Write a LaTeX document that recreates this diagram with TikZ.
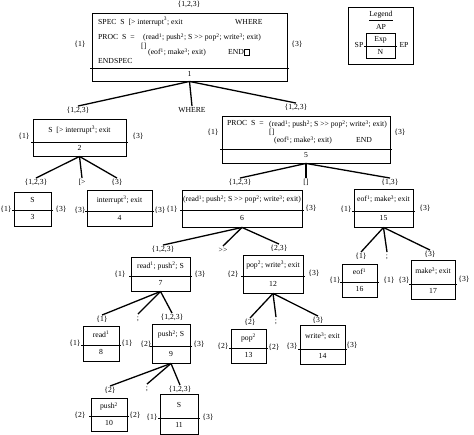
\documentclass[tikz,border=0pt]{standalone}
\usepackage{fontspec}
\setmainfont{Liberation Serif}
\newcommand\sx[1]{\textsuperscript{#1}}
\newcommand\seqop{>{}>}
\newcommand\qedbox{{\setlength\fboxsep{0pt}\setlength\fboxrule{0.9pt}\fbox{\rule{0pt}{4.5pt}\hspace{4.5pt}}}}
\tikzset{
  every node/.style={font=\fontsize{7.7}{9}\selectfont, inner sep=1pt, text height=5.6pt, text depth=1.9pt},
  tbox/.style={draw, line width=0.9pt, inner sep=0pt, text height=, text depth=},
  boxline/.style={line width=0.9pt},
  conn/.style={line width=1.3pt},
}
\newcommand\tb[8]{%
  \node[tbox, minimum width={(#4-#2)*1pt}, minimum height={(#6-#3)*1pt}] (#1) at ({(#2+#4)/2},{(#3+#6)/2}) {};
  \draw[boxline] (#2-2,#5) -- (#4+2,#5);
  \node (#1t) at ({(#2+#4)/2},{(#3+#5)/2}) {#7};
  \node (#1n) at ({(#2+#4)/2},{(#5+#6)/2}) {#8};
}
\begin{document}
\begin{tikzpicture}[x=1pt,y=-1pt]
\useasboundingbox (0,0) rectangle (474,435);

% ---------- Legend ----------
\node[tbox, minimum width=65pt, minimum height=57pt] (leg) at (380.5,35.5) {};
\node (legt) at (381,15) {\underline{Legend}};
\node (legap) at (381,28) {AP};
\node[tbox, minimum width=29pt, minimum height=25pt] (legb) at (380.5,45.5) {};
\draw[boxline] (364,46) -- (397,46);
\node (legexp) at (380.5,39.5) {Exp};
\node (legn) at (380.5,52.5) {N};
\node (legsp) at (359,46) {SP};
\node (legep) at (404,46) {EP};

% ---------- Box 1 ----------
\tb{b1}{92}{13}{287}{68}{81}{}{1}
\node[anchor=west] (s1a) at (97,23) {SPEC\ \ S\ \ [> interrupt\raisebox{1.5pt}{\sx{3}}; exit};
\node[anchor=west] (s1w) at (234,23) {WHERE};
\node[anchor=west] (s1b) at (97,38) {PROC\ \ S\ \ =};
\node[anchor=west] (s1c) at (142,38) {(read\sx{1}; push\sx{2}; S \seqop{} pop\sx{2}; write\sx{3}; exit)};
\node[anchor=west] (s1d) at (140,47) {[]};
\node[anchor=west] (s1e) at (147,53) {(eof\sx{1}; make\sx{3}; exit)};
\node[anchor=west] (s1f) at (227,53) {END\qedbox};
\node[anchor=west] (s1g) at (97,62) {ENDSPEC};
\node (l1top) at (189,5) {\{1,2,3\}};
\node (l1l) at (80,45) {\{1\}};
\node (l1r) at (297,45) {\{3\}};

% ---------- Box 2 ----------
\tb{b2}{33}{119}{126}{142}{156}{S\ \ [> interrupt\sx{3}; exit}{2}
\node (l2top) at (78,111) {\{1,2,3\}};
\node (l2l) at (24,137) {\{1\}};
\node (l2r) at (138,137) {\{3\}};
\node (op1) at (192,111) {WHERE};

% ---------- Box 3, 4 ----------
\tb{b3}{14}{192}{51}{210}{226}{S}{3}
\node (l3top) at (36,183) {\{1,2,3\}};
\node (l3l) at (6,210) {\{1\}};
\node (l3r) at (61,210) {\{3\}};
\node (op2) at (82,183) {[>};
\tb{b4}{87}{190}{152}{211}{226}{interrupt\sx{3}; exit}{4}
\node (l4top) at (117,183) {\{3\}};
\node (l4l) at (80,211) {\{3\}};
\node (l4r) at (160,211) {\{3\}};

% ---------- Box 5 ----------
\tb{b5}{222}{116}{390}{149}{163}{}{5}
\node[anchor=west] (s5a) at (226,124) {PROC\ \ S\ \ =};
\node[anchor=west] (s5b) at (268,125) {(read\sx{1}; push\sx{2}; S \seqop{} pop\sx{2}; write\sx{3}; exit)};
\node[anchor=west] (s5c) at (268,133) {[]};
\node[anchor=west] (s5d) at (273,141) {(eof\sx{1}; make\sx{3}; exit)};
\node[anchor=west] (s5e) at (355,141) {END};
\node (l5top) at (296,108) {\{1,2,3\}};
\node (l5l) at (213,133) {\{1\}};
\node (l5r) at (400,133) {\{3\}};

% ---------- Box 6, 15 ----------
\tb{b6}{182}{190}{302}{210}{227}{(read\sx{1}; push\sx{2}; S \seqop{} pop\sx{2}; write\sx{3}; exit)}{6}
\node (l6top) at (240,183) {\{1,2,3\}};
\node (l6l) at (172,210) {\{1\}};
\node (l6r) at (311,209) {\{3\}};
\node (op5) at (306,183) {[]};
\tb{b15}{354}{189}{413}{211}{227}{eof\sx{1}; make\sx{3}; exit}{15}
\node (l15top) at (390,183) {\{1,3\}};
\node (l15l) at (346,210) {\{1\}};
\node (l15r) at (425,209) {\{3\}};

% ---------- Box 7, 12 ----------
\tb{b7}{131}{257}{190}{276}{291}{read\sx{1}; push\sx{2}; S}{7}
\node (l7top) at (163,250) {\{1,2,3\}};
\node (l7l) at (120,275) {\{1\}};
\node (l7r) at (200,275) {\{3\}};
\node (op6) at (223,251) {\seqop};
\tb{b12}{243}{255}{303}{276}{293}{pop\sx{2}; write\sx{3}; exit}{12}
\node (l12top) at (279,249) {\{2,3\}};
\node (l12l) at (233,275) {\{2\}};
\node (l12r) at (314,274) {\{3\}};

% ---------- Box 16, 17 ----------
\tb{b16}{342}{264}{377}{282}{297}{eof\sx{1}}{16}
\node (l16top) at (361,257) {\{1\}};
\node (l16l) at (335,281) {\{1\}};
\node (l16r) at (389,281) {\{1\}};
\node (op15) at (387,257) {;};
\tb{b17}{411}{260}{455}{284}{299}{make\sx{3}; exit}{17}
\node (l17top) at (430,255) {\{3\}};
\node (l17l) at (404,281) {\{3\}};
\node (l17r) at (464,280) {\{3\}};

% ---------- Box 8, 9 ----------
\tb{b8}{83}{326}{119}{345}{361}{read\sx{1}}{8}
\node (l8top) at (102,320) {\{1\}};
\node (l8l) at (75,344) {\{1\}};
\node (l8r) at (127,344) {\{1\}};
\node (op7) at (138,319) {;};
\tb{b9}{152}{324}{190}{346}{363}{push\sx{2}; S}{9}
\node (l9top) at (172,318) {\{1,2,3\}};
\node (l9l) at (146,345) {\{2\}};
\node (l9r) at (199,345) {\{3\}};

% ---------- Box 13, 14 ----------
\tb{b13}{231}{329}{266}{348}{363}{pop\sx{2}}{13}
\node (l13top) at (250,323) {\{2\}};
\node (l13l) at (223,347) {\{2\}};
\node (l13r) at (274,348) {\{2\}};
\node (op12) at (276,322) {;};
\tb{b14}{300}{325}{345}{349}{364}{write\sx{3}; exit}{14}
\node (l14top) at (318,321) {\{3\}};
\node (l14l) at (292,347) {\{3\}};
\node (l14r) at (352,346) {\{3\}};

% ---------- Box 10, 11 ----------
\tb{b10}{91}{398}{127}{416}{431}{push\sx{2}}{10}
\node (l10top) at (110,391) {\{2\}};
\node (l10l) at (80,416) {\{2\}};
\node (l10r) at (135,416) {\{2\}};
\node (op9) at (147,389) {;};
\tb{b11}{160}{394}{198}{418}{434}{S}{11}
\node (l11top) at (180,390) {\{1,2,3\}};
\node (l11l) at (152,418) {\{1\}};
\node (l11r) at (208,418) {\{3\}};

% ---------- connectors ----------
\draw[conn] (b1.south) -- (l2top.north);
\draw[conn] (b1.south) -- (op1.north);
\draw[conn] (b1.south) -- (l5top.north);
\draw[conn] (b2.south) -- (l3top.north);
\draw[conn] (b2.south) -- (op2.north);
\draw[conn] (b2.south) -- (l4top.north);
\draw[conn] (b5.south) -- (l6top.north);
\draw[conn] (b5.south) -- (op5.north);
\draw[conn] (b5.south) -- (l15top.north);
\draw[conn] (b6.south) -- (l7top.north);
\draw[conn] (b6.south) -- (op6.north);
\draw[conn] (b6.south) -- (l12top.north);
\draw[conn] (b15.south) -- (l16top.north);
\draw[conn] (b15.south) -- (op15.north);
\draw[conn] (b15.south) -- (l17top.north);
\draw[conn] (b7.south) -- (l8top.north);
\draw[conn] (b7.south) -- (op7.north);
\draw[conn] (b7.south) -- (l9top.north);
\draw[conn] (b12.south) -- (l13top.north);
\draw[conn] (b12.south) -- (op12.north);
\draw[conn] (b12.south) -- (l14top.north);
\draw[conn] (b9.south) -- (l10top.north);
\draw[conn] (b9.south) -- (op9.north);
\draw[conn] (b9.south) -- (l11top.north);
\end{tikzpicture}
\end{document}
